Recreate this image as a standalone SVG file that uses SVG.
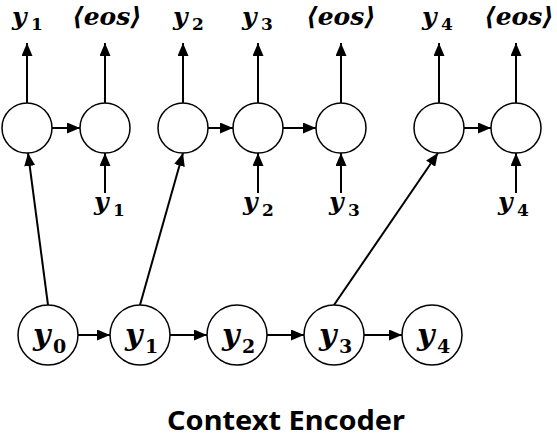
<svg xmlns="http://www.w3.org/2000/svg" width="557" height="438" viewBox="0 0 557 438">
<style>
.node{fill:#fff;stroke:#000;stroke-width:1.5}
.edge{stroke:#000;stroke-width:2;fill:none;marker-end:url(#ah)}
.v{font-family:"DejaVu Serif","Liberation Serif",serif;font-weight:bold;font-style:italic;font-size:25px;fill:#000}
.s{font-family:"DejaVu Serif","Liberation Serif",serif;font-weight:bold;font-size:17px;fill:#000}
.vb{font-family:"DejaVu Serif","Liberation Serif",serif;font-weight:bold;font-style:italic;font-size:30px;fill:#000}
.sb{font-family:"DejaVu Serif","Liberation Serif",serif;font-weight:bold;font-size:19px;fill:#000}
.title{font-family:"Noto Sans","Liberation Sans",sans-serif;font-weight:bold;font-size:27px;fill:#000}
</style>
<defs>
<marker id="ah" markerUnits="userSpaceOnUse" markerWidth="13" markerHeight="11" refX="13" refY="5.5" orient="auto">
<path d="M0,0 L13,5.5 L0,11 z" fill="#000"/>
</marker>
</defs>
<rect width="557" height="438" fill="#fff"/>
<g id="connectors">
<line class="edge" x1="27" y1="103" x2="27" y2="43"/>
<line class="edge" x1="105" y1="103" x2="105" y2="43"/>
<line class="edge" x1="183" y1="103" x2="183" y2="43"/>
<line class="edge" x1="258" y1="103" x2="258" y2="43"/>
<line class="edge" x1="341" y1="103" x2="341" y2="43"/>
<line class="edge" x1="439" y1="103" x2="439" y2="43"/>
<line class="edge" x1="516" y1="103" x2="516" y2="43"/>
<line class="edge" x1="52" y1="128" x2="80" y2="128"/>
<line class="edge" x1="208" y1="128" x2="233" y2="128"/>
<line class="edge" x1="283" y1="128" x2="316" y2="128"/>
<line class="edge" x1="464" y1="128" x2="491" y2="128"/>
<line class="edge" x1="105" y1="193" x2="105" y2="153"/>
<line class="edge" x1="258" y1="193" x2="258" y2="153"/>
<line class="edge" x1="341" y1="193" x2="341" y2="153"/>
<line class="edge" x1="516" y1="193" x2="516" y2="153"/>
<line class="edge" x1="78" y1="335" x2="110" y2="335"/>
<line class="edge" x1="170" y1="335" x2="207" y2="335"/>
<line class="edge" x1="267" y1="335" x2="304" y2="335"/>
<line class="edge" x1="364" y1="335" x2="402" y2="335"/>
<line class="edge" x1="48" y1="305" x2="28" y2="153"/>
<line class="edge" x1="140" y1="305" x2="183" y2="153"/>
<line class="edge" x1="334" y1="305" x2="438" y2="153"/>
</g>
<g id="dec1"><circle class="node" cx="27" cy="128" r="25"/></g>
<g id="dec2"><circle class="node" cx="105" cy="128" r="25"/></g>
<g id="dec3"><circle class="node" cx="183" cy="128" r="25"/></g>
<g id="dec4"><circle class="node" cx="258" cy="128" r="25"/></g>
<g id="dec5"><circle class="node" cx="341" cy="128" r="25"/></g>
<g id="dec6"><circle class="node" cx="439" cy="128" r="25"/></g>
<g id="dec7"><circle class="node" cx="516" cy="128" r="25"/></g>
<g id="enc0"><circle class="node" cx="48" cy="335" r="30"/><text class="vb" x="33" y="345">y</text><text class="sb" x="53" y="353">0</text></g>
<g id="enc1"><circle class="node" cx="140" cy="335" r="30"/><text class="vb" x="125" y="345">y</text><text class="sb" x="145" y="353">1</text></g>
<g id="enc2"><circle class="node" cx="237" cy="335" r="30"/><text class="vb" x="222" y="345">y</text><text class="sb" x="242" y="353">2</text></g>
<g id="enc3"><circle class="node" cx="334" cy="335" r="30"/><text class="vb" x="319" y="345">y</text><text class="sb" x="339" y="353">3</text></g>
<g id="enc4"><circle class="node" cx="432" cy="335" r="30"/><text class="vb" x="417" y="345">y</text><text class="sb" x="437" y="353">4</text></g>
<g id="labels">
<text class="v" x="12" y="25">y</text><text class="s" x="31" y="30">1</text>
<text class="v" x="107" y="25" text-anchor="middle">⟨eos⟩</text>
<text class="v" x="173" y="25">y</text><text class="s" x="192" y="30">2</text>
<text class="v" x="242" y="25">y</text><text class="s" x="261" y="30">3</text>
<text class="v" x="341" y="25" text-anchor="middle">⟨eos⟩</text>
<text class="v" x="422" y="25">y</text><text class="s" x="441" y="30">4</text>
<text class="v" x="519" y="25" text-anchor="middle">⟨eos⟩</text>
<text class="v" x="94" y="210">y</text><text class="s" x="113" y="216">1</text>
<text class="v" x="243" y="210">y</text><text class="s" x="262" y="216">2</text>
<text class="v" x="329" y="210">y</text><text class="s" x="348" y="216">3</text>
<text class="v" x="498" y="210">y</text><text class="s" x="517" y="216">4</text>
</g>
<text class="title" x="167" y="430" textLength="238" lengthAdjust="spacingAndGlyphs">Context Encoder</text>
</svg>
